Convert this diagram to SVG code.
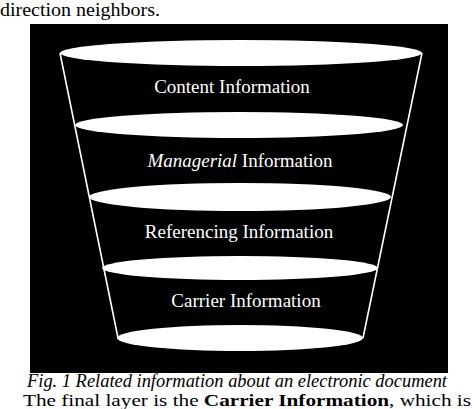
<svg xmlns="http://www.w3.org/2000/svg" width="474" height="409" viewBox="0 0 474 409">
<style>
.t{font-family:"Liberation Serif","Times New Roman",serif;}
.lbl{font-family:"Liberation Serif","Times New Roman",serif;font-size:19px;fill:#fff;text-anchor:middle;}
.disc{fill:#fff;}
.side{stroke:#fff;stroke-width:1.6;fill:none;}
</style>
<rect width="474" height="409" fill="#fff"/>
<text class="t" x="0" y="16" font-size="19.5" textLength="160" lengthAdjust="spacingAndGlyphs" fill="#000">direction neighbors.</text>
<g id="funnel">
<rect x="30" y="24" width="418" height="349" fill="#000"/>
<line class="side" x1="60" y1="53" x2="118" y2="338"/>
<line class="side" x1="422" y1="53" x2="363" y2="338"/>
</g>
<g id="layer-top"><ellipse class="disc" cx="241" cy="53" rx="181" ry="13"/></g>
<g id="content"><text class="lbl" x="232" y="93">Content Information</text></g>
<g id="layer2"><ellipse class="disc" cx="239" cy="125" rx="164" ry="13"/></g>
<g id="managerial"><text class="lbl" x="240" y="167"><tspan font-style="italic">Managerial</tspan> Information</text></g>
<g id="layer3"><ellipse class="disc" cx="240" cy="197" rx="151" ry="14"/></g>
<g id="referencing"><text class="lbl" x="239" y="238">Referencing Information</text></g>
<g id="layer4"><ellipse class="disc" cx="240" cy="268" rx="138" ry="12"/></g>
<g id="carrier"><text class="lbl" x="246" y="307">Carrier Information</text></g>
<g id="layer-bottom"><ellipse class="disc" cx="240" cy="338" rx="123" ry="13"/></g>
<text class="t" x="27" y="387" font-size="18" font-style="italic" textLength="420" lengthAdjust="spacingAndGlyphs" fill="#000">Fig. 1 Related information about an electronic document</text>
<text class="t" x="23" y="406" font-size="16" textLength="448" lengthAdjust="spacingAndGlyphs" fill="#000">The final layer is the <tspan font-weight="bold">Carrier Information</tspan>, which is</text>
</svg>
